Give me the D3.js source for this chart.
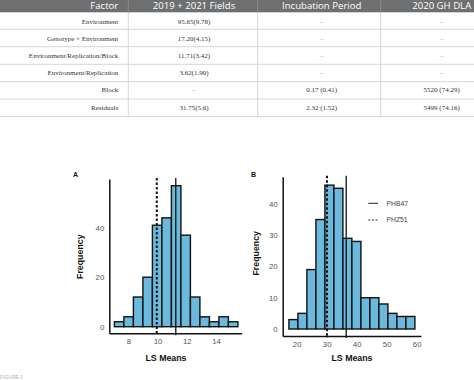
<!DOCTYPE html>
<html>
<head>
<meta charset="utf-8">
<script src="https://cdn.jsdelivr.net/npm/d3@7"></script>
<style>
  html, body { margin: 0; padding: 0; background: #fff; }
  svg { display: block; }
</style>
</head>
<body>
<svg id="chart" width="474" height="380"></svg>
<script>
// ---------------- DATA ----------------
const tableHeaders = ["Factor", "2019 + 2021 Fields", "Incubation Period", "2020 GH DLA"];
const tableFactors = ["Environment", "Genotype \u00d7 Environment", "Environment/Replication/Block",
                      "Environment/Replication", "Block", "Residuals"];
const colFields     = ["95.65(9.78)", "17.20(4.15)", "11.71(3.42)", "3.62(1.90)", "\u2013", "31.75(5.6)"];
const colIncubation = ["\u2013", "\u2013", "\u2013", "\u2013", "0.17 (0.41)", "2.32 (1.52)"];
const colGHDLA      = ["\u2013", "\u2013", "\u2013", "\u2013", "5520 (74.29)", "5499 (74.16)"];

// Panel A histogram (LS Means, 2019 + 2021 Fields)
const edgesA  = [7.05, 7.7, 8.35, 9.0, 9.65, 10.3, 10.95, 11.6, 12.25, 12.9, 13.55, 14.2, 14.85, 15.5];
const countsA = [2, 4, 12, 20, 41, 44, 57, 37, 12, 4, 2, 4, 2];
const ticksXA = [8, 10, 12, 14];
const ticksYA = [0, 20, 40];
const checksA = [{name: "PHB47", value: 11.25}, {name: "PHZ51", value: 9.95}];

// Panel B histogram (LS Means, 2020 GH DLA)
const edgesB  = [17.4, 20.4, 23.4, 26.4, 29.4, 32.4, 35.4, 38.4, 41.4, 44.4, 47.4, 50.4, 53.4, 56.4, 59.4];
const countsB = [3, 5, 19, 35, 46, 45, 29, 28, 10, 10, 8, 5, 4, 4];
const ticksXB = [20, 30, 40, 50, 60];
const ticksYB = [0, 10, 20, 30, 40];
const checksB = [{name: "PHB47", value: 36.5}, {name: "PHZ51", value: 30.1}];

// ---------------- DRAW ----------------
const svg = d3.select("#chart");

// ---- Table ----
const colX = [0, 128.3, 257.7, 380.7, 474];
const headerH = 12.3;
const rowLines = [29.3, 46.7, 64.3, 81.7, 99, 116.7];
const rowCenters = [21.7, 38.3, 55.7, 72.7, 90, 107.3];

svg.append("rect").attr("x", 0).attr("y", 0).attr("width", 474).attr("height", headerH)
  .attr("fill", "#6e6f71");

const tbl = svg.append("g");
tbl.selectAll("line.hr").data(rowLines).join("line")
  .attr("x1", 0).attr("x2", 474).attr("y1", d => d).attr("y2", d => d)
  .attr("stroke", "#d6d6d6").attr("stroke-width", 1);
tbl.selectAll("line.vr").data(colX.slice(1, 4)).join("line")
  .attr("x1", d => d).attr("x2", d => d).attr("y1", headerH).attr("y2", rowLines[rowLines.length - 1])
  .attr("stroke", "#d6d6d6").attr("stroke-width", 1);
// header separators (subtle)
tbl.selectAll("line.hv").data(colX.slice(1, 4)).join("line")
  .attr("x1", d => d).attr("x2", d => d).attr("y1", 0).attr("y2", headerH)
  .attr("stroke", "#8a8b8d").attr("stroke-width", 1);

const headerAnchorX = [118.3, 194, 321.7, 441.7];
tbl.selectAll("text.hd").data(tableHeaders).join("text")
  .attr("x", (d, i) => headerAnchorX[i]).attr("y", 8.6)
  .attr("text-anchor", (d, i) => i === 0 ? "end" : "middle")
  .attr("font-family", "'Open Sans', sans-serif").attr("font-size", 9.6)
  .attr("fill", "#ffffff").text(d => d);

const serif = "'Liberation Serif', 'DejaVu Serif', serif";
tbl.selectAll("text.fac").data(tableFactors).join("text")
  .attr("x", 118.3).attr("y", (d, i) => rowCenters[i]).attr("dy", "0.35em")
  .attr("text-anchor", "end").attr("font-family", serif).attr("font-size", 7)
  .attr("fill", "#333").text(d => d);
[colFields, colIncubation, colGHDLA].forEach((col, c) => {
  tbl.append("g").selectAll("text").data(col).join("text")
    .attr("x", headerAnchorX[c + 1]).attr("y", (d, i) => rowCenters[i]).attr("dy", "0.35em")
    .attr("text-anchor", "middle").attr("font-family", serif).attr("font-size", 7)
    .attr("fill", (d) => d === "\u2013" ? "#888" : "#333").text(d => d);
});

// ---- Histograms ----
const sans = "'Liberation Sans', Arial, sans-serif";
function panel(opts) {
  const g = svg.append("g");
  const x = d3.scaleLinear().domain(opts.xDomain).range([opts.left, opts.right]);
  const y = d3.scaleLinear().domain(opts.yDomain).range([opts.bottom, opts.top]);

  const bins = opts.counts.map((c, i) => ({x0: opts.edges[i], x1: opts.edges[i + 1], n: c}));
  g.selectAll("rect.bar").data(bins).join("rect")
    .attr("x", d => x(d.x0)).attr("width", d => x(d.x1) - x(d.x0))
    .attr("y", d => y(d.n)).attr("height", d => y(0) - y(d.n))
    .attr("fill", "#6bbade").attr("stroke", "#111").attr("stroke-width", 1.4);

  // check lines
  opts.checks.forEach(c => {
    g.append("line")
      .attr("x1", x(c.value)).attr("x2", x(c.value))
      .attr("y1", opts.top - 1).attr("y2", opts.bottom + 2)
      .attr("stroke", "#111")
      .attr("stroke-width", c.name === "PHB47" ? 1.3 : 2)
      .attr("stroke-dasharray", c.name === "PHB47" ? null : "2.5,2");
  });

  // axes (no tick marks, gray labels)
  const xAxis = d3.axisBottom(x).tickValues(opts.ticksX).tickSize(0).tickPadding(5);
  const yAxis = d3.axisLeft(y).tickValues(opts.ticksY).tickSize(0).tickPadding(5);
  const gx = g.append("g").attr("transform", `translate(0,${opts.bottom})`).call(xAxis);
  const gy = g.append("g").attr("transform", `translate(${opts.left},0)`).call(yAxis);
  [gx, gy].forEach(a => {
    a.select(".domain").attr("stroke", "#111").attr("stroke-width", 1.5);
    a.selectAll("text").attr("font-family", sans).attr("font-size", 7.8).attr("fill", "#555");
  });

  g.append("text").attr("x", opts.titleX).attr("y", 361)
    .attr("text-anchor", "middle").attr("font-family", sans).attr("font-weight", "bold")
    .attr("font-size", 8.8).attr("fill", "#111").text("LS Means");
  g.append("text")
    .attr("transform", `translate(${opts.freqX},${opts.freqY}) rotate(-90)`)
    .attr("text-anchor", "middle").attr("font-family", sans).attr("font-weight", "bold")
    .attr("font-size", 8.8).attr("fill", "#111").text("Frequency");
  g.append("text").attr("x", opts.labelX).attr("y", 177)
    .attr("font-family", sans).attr("font-weight", "bold").attr("font-size", 7)
    .attr("fill", "#111").text(opts.label);
  return {g, x, y};
}

panel({
  label: "A", labelX: 73, freqX: 82.5, freqY: 256.7, titleX: 166,
  left: 109.3, right: 241.7, top: 179, bottom: 333.3,
  xDomain: [6.70, 15.76], yDomain: [-2.67, 59.7],
  edges: edgesA, counts: countsA, ticksX: ticksXA, ticksY: ticksYA, checks: checksA
});

const pB = panel({
  label: "B", labelX: 251, freqX: 258.5, freqY: 253.3, titleX: 352,
  left: 282.7, right: 421, top: 176.7, bottom: 336,
  xDomain: [15.33, 61.43], yDomain: [-2.24, 48.7],
  edges: edgesB, counts: countsB, ticksX: ticksXB, ticksY: ticksYB, checks: checksB
});

// Legend (panel B)
const legend = svg.append("g");
const legendY = [203.3, 220];
checksB.forEach((c, i) => {
  legend.append("line").attr("x1", 368.3).attr("x2", 378).attr("y1", legendY[i]).attr("y2", legendY[i])
    .attr("stroke", "#222").attr("stroke-width", 1)
    .attr("stroke-dasharray", c.name === "PHB47" ? null : "2,1.6");
  legend.append("text").attr("x", 386.5).attr("y", legendY[i]).attr("dy", "0.35em")
    .attr("font-family", sans).attr("font-size", 6.8).attr("fill", "#444").text(c.name);
});

// Figure caption
svg.append("text").attr("x", 0).attr("y", 379).attr("font-family", sans).attr("font-size", 5)
  .attr("fill", "#b0b0b0").text("FIGURE 1");
</script>
</body>
</html>
